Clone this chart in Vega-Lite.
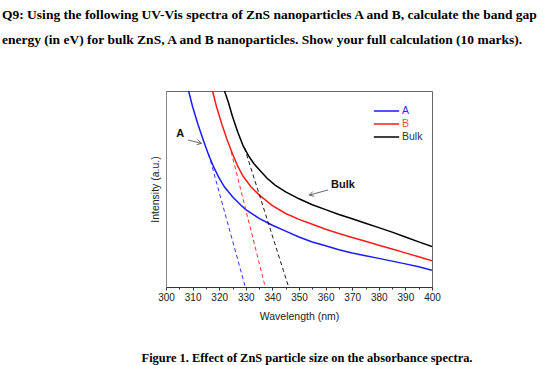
{
  "$schema": "https://vega.github.io/schema/vega-lite/v6.json",
  "background": "white",
  "padding": {"left": 2, "top": 8, "right": 4, "bottom": 2},
  "title": {
    "text": ["Q9: Using the following UV-Vis spectra of ZnS nanoparticles A and B, calculate the band gap", "energy (in eV) for bulk ZnS, A and B nanoparticles. Show your full calculation (10 marks)."],
    "anchor": "start",
    "frame": "group",
    "dx": -164,
    "offset": 44,
    "font": "Liberation Serif",
    "fontSize": 13.5,
    "fontWeight": "bold",
    "color": "#000000",
    "lineHeight": 25
  },
  "datasets": {
    "curves": [
      {"series": "A", "x": 308.5, "y": 100}, {"series": "A", "x": 310, "y": 92}, {"series": "A", "x": 312, "y": 83}, {"series": "A", "x": 314, "y": 75}, {"series": "A", "x": 316, "y": 67.5}, {"series": "A", "x": 318, "y": 61}, {"series": "A", "x": 320, "y": 55.5}, {"series": "A", "x": 322, "y": 51}, {"series": "A", "x": 325, "y": 46}, {"series": "A", "x": 328, "y": 42}, {"series": "A", "x": 330, "y": 39.5}, {"series": "A", "x": 335, "y": 35}, {"series": "A", "x": 340, "y": 31.5}, {"series": "A", "x": 345, "y": 28.5}, {"series": "A", "x": 350, "y": 25.5}, {"series": "A", "x": 355, "y": 23}, {"series": "A", "x": 360, "y": 21}, {"series": "A", "x": 365, "y": 19}, {"series": "A", "x": 370, "y": 17.3}, {"series": "A", "x": 375, "y": 16}, {"series": "A", "x": 380, "y": 14.6}, {"series": "A", "x": 385, "y": 13.2}, {"series": "A", "x": 390, "y": 11.8}, {"series": "A", "x": 395, "y": 10.3}, {"series": "A", "x": 400, "y": 8.5},
      {"series": "B", "x": 317.5, "y": 100}, {"series": "B", "x": 319, "y": 92}, {"series": "B", "x": 321, "y": 83}, {"series": "B", "x": 323, "y": 75}, {"series": "B", "x": 325, "y": 68}, {"series": "B", "x": 327, "y": 61.5}, {"series": "B", "x": 329, "y": 56.5}, {"series": "B", "x": 332, "y": 51}, {"series": "B", "x": 335, "y": 47}, {"series": "B", "x": 340, "y": 41.5}, {"series": "B", "x": 345, "y": 37.5}, {"series": "B", "x": 350, "y": 34.5}, {"series": "B", "x": 355, "y": 32}, {"series": "B", "x": 360, "y": 29.5}, {"series": "B", "x": 365, "y": 27.3}, {"series": "B", "x": 370, "y": 25.3}, {"series": "B", "x": 375, "y": 23.3}, {"series": "B", "x": 380, "y": 21.3}, {"series": "B", "x": 385, "y": 19.4}, {"series": "B", "x": 390, "y": 17.4}, {"series": "B", "x": 395, "y": 15.4}, {"series": "B", "x": 400, "y": 13.4},
      {"series": "Bulk", "x": 322, "y": 100}, {"series": "Bulk", "x": 323.5, "y": 94}, {"series": "Bulk", "x": 325, "y": 87}, {"series": "Bulk", "x": 327, "y": 79}, {"series": "Bulk", "x": 329, "y": 72}, {"series": "Bulk", "x": 331, "y": 67}, {"series": "Bulk", "x": 333, "y": 63}, {"series": "Bulk", "x": 335, "y": 60}, {"series": "Bulk", "x": 338, "y": 55.5}, {"series": "Bulk", "x": 341, "y": 52}, {"series": "Bulk", "x": 345, "y": 48.5}, {"series": "Bulk", "x": 350, "y": 45}, {"series": "Bulk", "x": 355, "y": 42}, {"series": "Bulk", "x": 360, "y": 39.5}, {"series": "Bulk", "x": 365, "y": 37}, {"series": "Bulk", "x": 370, "y": 34.8}, {"series": "Bulk", "x": 375, "y": 32.5}, {"series": "Bulk", "x": 380, "y": 30.3}, {"series": "Bulk", "x": 385, "y": 28}, {"series": "Bulk", "x": 390, "y": 25.5}, {"series": "Bulk", "x": 395, "y": 23}, {"series": "Bulk", "x": 400, "y": 20.6}
    ],
    "tangents": [
      {"series": "A", "x": 316, "y": 68}, {"series": "A", "x": 329.8, "y": 0},
      {"series": "B", "x": 324.5, "y": 69}, {"series": "B", "x": 337.3, "y": 0},
      {"series": "Bulk", "x": 329.5, "y": 71}, {"series": "Bulk", "x": 346.1, "y": 0}
    ],
    "arrows": [
      {"x": 308.3, "y": 75, "x2": 313.3, "y2": 73.3},
      {"x": 311.9, "y": 75.1, "x2": 313.3, "y2": 73.3},
      {"x": 311.5, "y": 72.6, "x2": 313.3, "y2": 73.3},
      {"x": 360.9, "y": 49.5, "x2": 353.9, "y2": 46.9},
      {"x": 355.7, "y": 46.3, "x2": 353.9, "y2": 46.9},
      {"x": 355.2, "y": 48.7, "x2": 353.9, "y2": 46.9}
    ],
    "labels": [
      {"label": "A", "x": 305.3, "y": 78},
      {"label": "Bulk", "x": 366.5, "y": 52}
    ]
  },
  "vconcat": [
    {
      "width": 266,
      "height": 196,
      "view": {"stroke": "#666666", "strokeWidth": 1},
      "title": {
        "text": "Figure 1. Effect of ZnS particle size on the absorbance spectra.",
        "orient": "bottom",
        "anchor": "middle",
        "dx": 8,
        "offset": 30,
        "font": "Liberation Serif",
        "fontSize": 12.4,
        "fontWeight": "bold",
        "color": "#000000"
      },
      "resolve": {"axis": {"x": "independent", "y": "independent"}},
      "layer": [
        {
          "data": {"name": "curves"},
          "mark": {"type": "line", "strokeWidth": 1.5, "clip": true},
          "encoding": {
            "x": {"field": "x", "type": "quantitative", "scale": {"domain": [300, 400], "nice": false},
              "axis": {"title": "Wavelength (nm)", "values": [300, 310, 320, 330, 340, 350, 360, 370, 380, 390, 400], "tickSize": 3, "labelPadding": 2, "titlePadding": 9, "orient": "bottom", "labelFlush": false}},
            "y": {"field": "y", "type": "quantitative", "scale": {"domain": [0, 100], "nice": false},
              "axis": {"title": "Intensity (a.u.)", "labels": false, "ticks": false, "domainColor": "#888888", "titlePadding": 6, "orient": "left"}},
            "color": {"field": "series", "type": "nominal",
              "scale": {"domain": ["A", "B", "Bulk"], "range": ["#1a1aff", "#ff1a1a", "#000000"]},
              "legend": {
                "orient": "none", "legendX": 213, "legendY": 12.5, "title": null,
                "symbolType": "M-2,0H2", "symbolSize": 160, "symbolStrokeWidth": 1.5,
                "labelFont": "Liberation Sans", "labelFontSize": 10.5, "labelOffset": 8,
                "rowPadding": 0, "padding": 0,
                "encode": {"labels": {"update": {"fill": {"signal": "datum.label === 'A' ? '#2a2aff' : datum.label === 'B' ? '#ff4a4a' : '#333333'"}}}}
              }
            },
            "detail": {"field": "series"}
          }
        },
        {
          "data": {"name": "tangents"},
          "mark": {"type": "line", "strokeWidth": 0.9, "strokeDash": [4, 3], "clip": true},
          "encoding": {
            "x": {"field": "x", "type": "quantitative", "scale": {"domain": [300, 400], "nice": false},
              "axis": {"title": null, "values": [305, 315, 325, 335, 345, 355, 365, 375, 385, 395], "labels": false, "domain": false, "tickSize": 2, "orient": "bottom"}},
            "y": {"field": "y", "type": "quantitative", "scale": {"domain": [0, 100], "nice": false}, "axis": null},
            "color": {"field": "series", "type": "nominal", "legend": null},
            "detail": {"field": "series"}
          }
        },
        {
          "data": {"name": "arrows"},
          "mark": {"type": "rule", "color": "#444444", "strokeWidth": 0.8},
          "encoding": {
            "x": {"field": "x", "type": "quantitative", "axis": null},
            "y": {"field": "y", "type": "quantitative", "axis": null},
            "x2": {"field": "x2"},
            "y2": {"field": "y2"}
          }
        },
        {
          "data": {"name": "labels"},
          "mark": {"type": "text", "font": "Liberation Sans", "fontSize": 11, "fontWeight": "bold", "color": "#111111", "align": "center", "baseline": "middle"},
          "encoding": {
            "x": {"field": "x", "type": "quantitative", "axis": null},
            "y": {"field": "y", "type": "quantitative", "axis": null},
            "text": {"field": "label"}
          }
        }
      ]
    }
  ],
  "config": {
    "view": {"stroke": "#666666", "strokeWidth": 1},
    "axis": {
      "labelFont": "Liberation Sans", "titleFont": "Liberation Sans",
      "labelFontSize": 10, "titleFontSize": 10.5, "titleFontWeight": "normal",
      "labelColor": "#222222", "titleColor": "#222222",
      "grid": false, "domainColor": "#333333", "tickColor": "#333333"
    }
  }
}
